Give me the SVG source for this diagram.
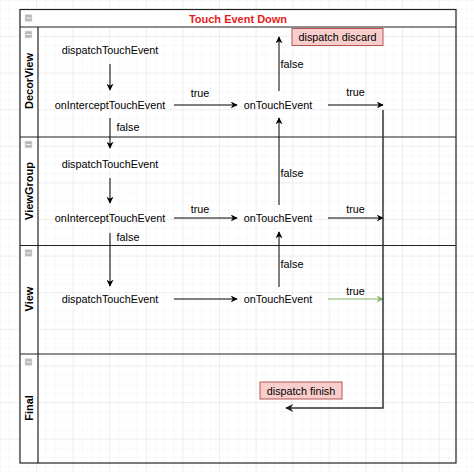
<svg xmlns="http://www.w3.org/2000/svg" width="474" height="472" viewBox="0 0 474 472">
<style>
  .t { font-family: "Liberation Sans", Arial, sans-serif; font-size: 10.8px; fill: #000; text-anchor: middle; dominant-baseline: central; }
  .lane { font-family: "Liberation Sans", Arial, sans-serif; font-size: 11px; font-weight: bold; fill: #000; text-anchor: middle; dominant-baseline: central; }
  .title { font-family: "Liberation Sans", Arial, sans-serif; font-size: 11px; font-weight: bold; fill: #e51c1c; text-anchor: middle; dominant-baseline: central; }
  .edge { fill: none; stroke: #000; stroke-width: 1; marker-end: url(#arr); }
  .green { fill: none; stroke: #82b366; stroke-width: 1; marker-end: url(#arrg); }
  .ret { fill: none; stroke: #333; stroke-width: 1.5; marker-end: url(#arrd); }
  .box { fill: #f8cecc; stroke: #b85450; stroke-width: 1; }
  .frame { fill: none; stroke: #222; stroke-width: 1.2; }
  .icon { fill: #b8b8b8; stroke: #e6e6e6; stroke-width: 0.6; }
</style>
<defs>
  <pattern id="minor" width="9.15" height="9.15" patternUnits="userSpaceOnUse" x="0.4" y="0.4">
    <path d="M9.15 0 V9.15 M0 9.15 H9.15" fill="none" stroke="#f0f0f0" stroke-width="0.8"/>
  </pattern>
  <pattern id="major" width="36.6" height="36.6" patternUnits="userSpaceOnUse" x="0.4" y="0.4">
    <path d="M36.6 0 V36.6 M0 36.6 H36.6" fill="none" stroke="#e0e0e0" stroke-width="0.8"/>
  </pattern>
  <marker id="arr" viewBox="0 0 10 10" refX="9" refY="5" markerWidth="7" markerHeight="7" markerUnits="userSpaceOnUse" orient="auto">
    <path d="M0 0 L10 5 L0 10 L3 5 Z" fill="#000"/>
  </marker>
  <marker id="arrg" viewBox="0 0 10 10" refX="9" refY="5" markerWidth="7" markerHeight="7" markerUnits="userSpaceOnUse" orient="auto">
    <path d="M0 0 L10 5 L0 10 L3 5 Z" fill="#82b366"/>
  </marker>
  <marker id="arrd" viewBox="0 0 10 10" refX="9" refY="5" markerWidth="8" markerHeight="8" markerUnits="userSpaceOnUse" orient="auto">
    <path d="M0 0 L10 5 L0 10 L3 5 Z" fill="#222"/>
  </marker>
</defs>
<rect width="474" height="472" fill="#fff"/>
<rect width="474" height="472" fill="url(#minor)"/>
<rect width="474" height="472" fill="url(#major)"/>

<g id="pool">
  <rect x="20" y="9.5" width="436" height="17.5" fill="#fff"/>
  <rect x="20" y="27" width="18" height="436" fill="#fff"/>
  <rect class="frame" x="20" y="9.5" width="436" height="453.5"/>
  <line class="frame" x1="20" y1="27" x2="456" y2="27"/>
  <line class="frame" x1="38" y1="27" x2="38" y2="463"/>
  <rect class="icon" x="25" y="14.5" width="7" height="7"/>
  <line x1="26.5" y1="18" x2="30.5" y2="18" stroke="#fff" stroke-width="1"/>
  <text class="title" x="238" y="18.5">Touch Event Down</text>
</g>
<g id="lane-decorview">
  <rect class="icon" x="25" y="31" width="7" height="7"/>
  <line x1="26.5" y1="34.5" x2="30.5" y2="34.5" stroke="#fff" stroke-width="1"/>
  <text class="lane" transform="translate(29,81) rotate(-90)">DecorView</text>
  <line class="frame" x1="20" y1="137" x2="456" y2="137"/>
</g>
<g id="lane-viewgroup">
  <rect class="icon" x="25" y="141" width="7" height="7"/>
  <line x1="26.5" y1="144.5" x2="30.5" y2="144.5" stroke="#fff" stroke-width="1"/>
  <text class="lane" transform="translate(29,191) rotate(-90)">ViewGroup</text>
  <line class="frame" x1="20" y1="245.5" x2="456" y2="245.5"/>
</g>
<g id="lane-view">
  <rect class="icon" x="25" y="249.5" width="7" height="7"/>
  <line x1="26.5" y1="253" x2="30.5" y2="253" stroke="#fff" stroke-width="1"/>
  <text class="lane" transform="translate(29,299) rotate(-90)">View</text>
  <line class="frame" x1="20" y1="354" x2="456" y2="354"/>
</g>
<g id="lane-final">
  <rect class="icon" x="25" y="358.5" width="7" height="7"/>
  <line x1="26.5" y1="362" x2="30.5" y2="362" stroke="#fff" stroke-width="1"/>
  <text class="lane" transform="translate(29,408) rotate(-90)">Final</text>
</g>

<g id="n-dv-dispatch"><text class="t" x="110" y="50">dispatchTouchEvent</text></g>
<g id="n-dv-intercept"><text class="t" x="110" y="105">onInterceptTouchEvent</text></g>
<g id="n-dv-ontouch"><text class="t" x="278" y="105">onTouchEvent</text></g>
<g id="n-vg-dispatch"><text class="t" x="110" y="164">dispatchTouchEvent</text></g>
<g id="n-vg-intercept"><text class="t" x="110" y="218">onInterceptTouchEvent</text></g>
<g id="n-vg-ontouch"><text class="t" x="278" y="218">onTouchEvent</text></g>
<g id="n-v-dispatch"><text class="t" x="110" y="299">dispatchTouchEvent</text></g>
<g id="n-v-ontouch"><text class="t" x="278" y="299">onTouchEvent</text></g>
<g id="n-discard">
  <rect class="box" x="292" y="28.5" width="91" height="17"/>
  <text class="t" x="337.5" y="37">dispatch discard</text>
</g>
<g id="n-finish">
  <rect class="box" x="260" y="382" width="82" height="17"/>
  <text class="t" x="301" y="390.5">dispatch finish</text>
</g>

<g id="connectors">
  <path class="edge" d="M110 64 V90"/>
  <path class="edge" d="M174 105 H237"/>
  <path class="edge" d="M110 118 V148"/>
  <path class="edge" d="M279 91 V37"/>
  <path class="edge" d="M328 105 H383"/>
  <path class="edge" d="M110 178 V203"/>
  <path class="edge" d="M174 218 H237"/>
  <path class="edge" d="M110 233 V286"/>
  <path class="edge" d="M279 205 V118"/>
  <path class="edge" d="M328 218 H383"/>
  <path class="edge" d="M174 299 H237"/>
  <path class="edge" d="M279 287 V232"/>
  <path class="green" d="M328 299 H383"/>
  <path class="ret" d="M383 110 V408 H286"/>
  <text class="t" x="200" y="93">true</text>
  <text class="t" x="128" y="127">false</text>
  <text class="t" x="292" y="64">false</text>
  <text class="t" x="355.5" y="92">true</text>
  <text class="t" x="200" y="209">true</text>
  <text class="t" x="128" y="237">false</text>
  <text class="t" x="292" y="173">false</text>
  <text class="t" x="355.5" y="209">true</text>
  <text class="t" x="292" y="264">false</text>
  <text class="t" x="355.5" y="291">true</text>
</g>
</svg>
